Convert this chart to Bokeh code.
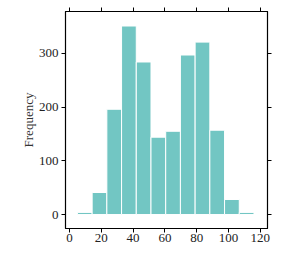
from bokeh.plotting import figure
from bokeh.models import LinearAxis, Range1d, FixedTicker, CustomLabelingPolicy
from bokeh.embed import file_html
from bokeh.resources import INLINE

bin_left = [5, 14.25, 23.5, 32.75, 42, 51.25, 60.5, 69.75, 79, 88.25, 97.5, 106.75]
bin_right = [14.25, 23.5, 32.75, 42, 51.25, 60.5, 69.75, 79, 88.25, 97.5, 106.75, 116]
counts = [4, 41, 196, 351, 284, 144, 155, 297, 321, 157, 28, 4]
x_ticks = [0, 20, 40, 60, 80, 100, 120]
y_ticks = [0, 100, 200, 300]

p = figure(width=293, height=257, frame_width=202, frame_height=217,
           output_backend="svg", toolbar_location=None,
           x_range=Range1d(-2.5, 124.5), y_range=Range1d(-26, 378),
           min_border_left=65, min_border_right=26, min_border_top=11, min_border_bottom=29)
p.background_fill_color = "white"
p.border_fill_color = "white"
p.xgrid.visible = False
p.ygrid.visible = False
p.outline_line_color = "black"
p.outline_line_width = 1.2

p.quad(left=bin_left, right=bin_right, bottom=0, top=counts,
       fill_color="#72c6c3", line_color="white", line_width=1)

font = "Liberation Serif"
for ax in (p.xaxis[0], p.yaxis[0]):
    ax.major_label_text_font = font
    ax.major_label_text_font_size = "13px"
    ax.major_label_text_color = "#222222"
    ax.axis_line_color = "black"
    ax.major_tick_line_color = "black"
    ax.major_tick_in = 0
    ax.major_tick_out = 4
    ax.minor_tick_line_color = None
    ax.major_label_standoff = 3
p.xaxis[0].major_label_standoff = 1
p.xaxis[0].ticker = FixedTicker(ticks=x_ticks)
p.yaxis[0].ticker = FixedTicker(ticks=y_ticks)
p.yaxis[0].axis_label = "Frequency"
p.yaxis[0].axis_label_text_font = font
p.yaxis[0].axis_label_text_font_style = "normal"
p.yaxis[0].axis_label_text_font_size = "13px"
p.yaxis[0].axis_label_text_color = "#333333"
p.yaxis[0].axis_label_standoff = 0

hide = "for (const i of Array.from(indices)) { indices.unset(i) } return indices"
top = LinearAxis(ticker=FixedTicker(ticks=x_ticks),
                 major_label_policy=CustomLabelingPolicy(code=hide),
                 major_label_text_font_size="1px",
                 major_tick_in=0, major_tick_out=4, minor_tick_line_color=None,
                 major_label_standoff=0)
right = LinearAxis(ticker=FixedTicker(ticks=y_ticks),
                   major_label_policy=CustomLabelingPolicy(code=hide),
                   major_label_text_font_size="1px",
                   major_tick_in=0, major_tick_out=4, minor_tick_line_color=None,
                   major_label_standoff=0)
p.add_layout(top, "above")
p.add_layout(right, "right")

open("out.html", "w").write(file_html(p, INLINE))
